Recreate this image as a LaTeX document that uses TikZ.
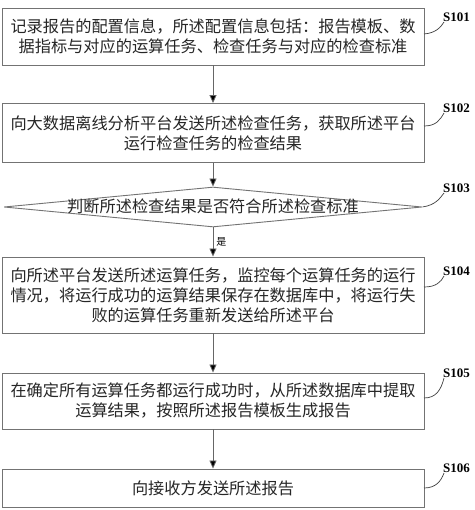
\documentclass[tikz,border=0pt]{standalone}
\usepackage{fontspec}
\setmainfont{Liberation Serif}
\newfontfamily\cjk{Noto Sans CJK SC}
\usetikzlibrary{shapes.geometric,arrows.meta}
\begin{document}
\begin{tikzpicture}[x=1pt,y=-1pt,
  frame/.style={draw=black!55, line width=0.9pt},
  stepbox/.style={frame, rectangle, minimum width=422pt, inner sep=0pt, align=center,
    font=\cjk\fontsize{16.2}{20}\selectfont, text=black!85},
  flow/.style={draw=black!60, line width=0.8pt, -{Triangle[length=8pt,width=7pt,fill=black]}},
  tag/.style={font=\bfseries\fontsize{13}{14}\selectfont, inner sep=0pt, anchor=south west},
  tail/.style={draw=black!75, line width=0.7pt}]
\useasboundingbox (0,0) rectangle (474,510);
\fill[white] (0,0) rectangle (474,510);

\node[stepbox, minimum height=57pt] (b1) at (213,36.5)
  {记录报告的配置信息，所述配置信息包括：报告模板、数\\据指标与对应的运算任务、检查任务与对应的检查标准};
\node[stepbox, minimum height=59pt] (b2) at (213,133)
  {向大数据离线分析平台发送所述检查任务，获取所述平台\\运行检查任务的检查结果};
\node[frame, diamond, minimum width=418pt, minimum height=40pt, inner sep=0pt] (d) at (213,207) {};
\node[font=\cjk\fontsize{16.2}{20}\selectfont, text=black!85, inner sep=0pt] (dt) at (213,206) {判断所述检查结果是否符合所述检查标准};
\node[stepbox, minimum height=76pt] (b4) at (213,295)
  {向所述平台发送所述运算任务，监控每个运算任务的运行\\情况，将运行成功的运算结果保存在数据库中，将运行失\\败的运算任务重新发送给所述平台};
\node[stepbox, minimum height=56pt] (b5) at (213,401)
  {在确定所有运算任务都运行成功时，从所述数据库中提取\\运算结果，按照所述报告模板生成报告};
\node[stepbox, minimum height=38pt] (b6) at (213,488) {向接收方发送所述报告};

\draw[flow] (b1) -- (b2);
\draw[flow] (b2) -- (d);
\draw[flow] (d) -- node[right, font=\cjk\fontsize{10}{12}\selectfont, inner sep=3pt] (yes) {是} (b4);
\draw[flow] (b4) -- (b5);
\draw[flow] (b5) -- (b6);

\node[tag] (s1) at (443,22) {S101};
\node[tag] (s2) at (443,113) {S102};
\node[tag] (s3) at (443,193) {S103};
\node[tag] (s4) at (443,276) {S104};
\node[tag] (s5) at (443,378) {S105};
\node[tag] (s6) at (443,473) {S106};

\coordinate (t1) at (424,34);
\coordinate (t2) at (424,126);
\coordinate (t4) at (424,287);
\coordinate (t5) at (424,398);
\coordinate (t6) at (424,488);

\draw[tail] (t1) .. controls (436,33) and (441,27) .. ([xshift=1pt]s1.south west);
\draw[tail] (t2) .. controls (436,126) and (440,120) .. ([xshift=1pt]s2.south west);
\draw[tail] (d.east) .. controls (436,205) and (440,198) .. ([xshift=1pt]s3.south west);
\draw[tail] (t4) .. controls (436,287) and (441,282) .. ([xshift=1pt]s4.south west);
\draw[tail] (t5) .. controls (436,398) and (441,390) .. ([xshift=1pt]s5.south west);
\draw[tail] (t6) .. controls (436,488) and (441,481) .. ([xshift=1pt]s6.south west);
\end{tikzpicture}
\end{document}
